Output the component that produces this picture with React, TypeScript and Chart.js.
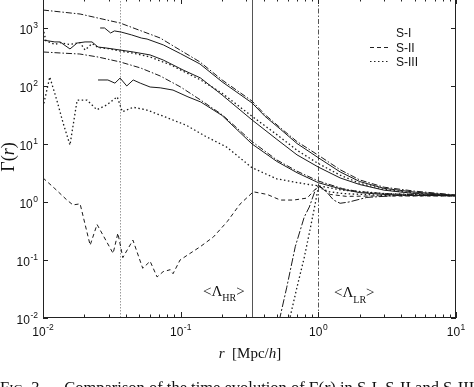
import React, { useEffect, useRef } from 'react';
import { Chart, registerables } from 'chart.js';
Chart.register(...registerables);

// ---- data (r in Mpc/h, Gamma(r)) ----
const rA1 = [0.01, 0.0186, 0.0363, 0.0709, 0.099, 0.138, 0.2, 0.33, 0.41, 0.53, 0.7, 1.0, 1.44, 2.0, 3.0, 5.0, 10];
const gA1 = [2040, 1742, 1219, 673, 417, 260, 127, 55, 32, 19, 11, 6.4, 3.6, 2.4, 1.8, 1.54, 1.32];

const rA2 = [0.026, 0.028, 0.031, 0.033, 0.037, 0.044, 0.052, 0.057, 0.075, 0.1, 0.138, 0.2, 0.33, 0.41, 0.53, 0.7, 1.0, 1.44, 2.0, 3.0, 5.0, 10];
const gA2 = [1000, 1000, 820, 890, 850, 760, 670, 645, 510, 360, 240, 118, 51, 30, 18, 10.2, 5.8, 3.3, 2.25, 1.72, 1.48, 1.3];

const rB1 = [0.01, 0.0122, 0.0133, 0.0157, 0.0177, 0.0202, 0.0227, 0.0251, 0.0292, 0.0363, 0.0452, 0.06, 0.0746, 0.104, 0.139, 0.2, 0.33, 0.5, 0.7, 1.0, 1.44, 2.0, 3.0, 5.0, 10];
const gB1 = [620, 575, 575, 435, 550, 575, 575, 470, 450, 417, 386, 343, 281, 189, 138, 70, 26, 12, 6.5, 4.0, 2.6, 2.0, 1.6, 1.4, 1.28];

const rB2 = [0.01, 0.0105, 0.0122, 0.0133, 0.0157, 0.0186, 0.0202, 0.0227, 0.0251, 0.03, 0.0363, 0.045, 0.06, 0.085, 0.104, 0.139, 0.2, 0.33, 0.5, 0.7, 1.0, 1.44, 2.0, 3.0, 5.0, 10];
const gB2 = [1000, 600, 520, 560, 520, 560, 417, 540, 460, 440, 400, 370, 316, 230, 180, 128, 75, 30, 14.5, 7.8, 4.6, 2.9, 2.1, 1.65, 1.42, 1.29];

const rC1 = [0.01, 0.0133, 0.0185, 0.0251, 0.0363, 0.051, 0.071, 0.1, 0.14, 0.2, 0.33, 0.5, 0.7, 1.0, 1.5, 2.0, 3.0, 5.0, 10];
const gC1 = [386, 371, 356, 316, 260, 205, 149, 96, 57, 32, 11, 5.3, 3.4, 2.3, 1.7, 1.5, 1.4, 1.33, 1.28];

const rC2 = [0.0251, 0.0296, 0.0333, 0.0363, 0.0406, 0.0452, 0.0509, 0.06, 0.071, 0.088, 0.113, 0.14, 0.2, 0.33, 0.5, 0.7, 1.0, 1.5, 2.0, 3.0, 5.0, 10];
const gC2 = [127, 127, 112, 137, 100, 127, 112, 96, 93, 85, 65, 53, 31, 10, 5.0, 3.2, 2.15, 1.65, 1.45, 1.35, 1.3, 1.28];

const rD = [0.01, 0.0112, 0.0126, 0.014, 0.0157, 0.0177, 0.0209, 0.0246, 0.029, 0.0346, 0.0377, 0.0452, 0.056, 0.078, 0.11, 0.154, 0.215, 0.33, 0.5, 0.8, 1.0, 1.5, 3.0, 10];
const gD = [43, 143, 57, 23, 9.6, 57, 57, 39, 47, 65, 36, 43, 39, 29, 21, 13.3, 8.9, 3.9, 2.5, 2.05, 1.9, 1.6, 1.4, 1.28];

const rE = [0.01, 0.0122, 0.0148, 0.0165, 0.0186, 0.022, 0.0247, 0.0323, 0.035, 0.038, 0.045, 0.053, 0.06, 0.0674, 0.0746, 0.084, 0.088, 0.099, 0.117, 0.139, 0.173, 0.218, 0.27, 0.337, 0.425, 0.53, 0.66, 0.83, 1.0, 1.22, 1.6, 2.5, 10];
const gE = [2.6, 1.7, 1.1, 0.89, 0.93, 0.18, 0.41, 0.13, 0.29, 0.11, 0.22, 0.072, 0.095, 0.051, 0.063, 0.068, 0.058, 0.1, 0.13, 0.17, 0.25, 0.46, 0.92, 1.5, 1.35, 1.08, 1.08, 1.17, 1.9, 1.35, 1.25, 1.27, 1.27];

const rF = [0.52, 0.59, 0.68, 0.79, 0.86, 0.95, 1.0, 1.12, 1.29, 1.44, 1.67, 2.25, 3.9, 10];
const gF = [0.009, 0.034, 0.17, 0.55, 0.82, 1.6, 1.95, 1.6, 1.08, 0.95, 1.0, 1.2, 1.3, 1.3];

const rG = [0.615, 0.7, 0.79, 0.86, 0.93, 1.0, 1.2, 1.5, 3.0, 10];
const gG = [0.009, 0.034, 0.11, 0.29, 0.73, 1.8, 1.5, 1.4, 1.3, 1.28];

const xTickExps = ['-2', '-1', '0', '1'];
const yTickExps = ['-2', '-1', '0', '1', '2', '3'];
const vLineHR = 0.33;
const vLineLR = 1.0;
const vLineDot = 0.0363;
const legendLabels = ['S-I', 'S-II', 'S-III'];

const SOLID: number[] = [];
const DASH = [4, 3];
const DOT = [1.5, 2.5];
const DASHDOT = [6, 2, 1.5, 2];

const mk = (r: number[], g: number[], dash: number[], w = 1) => ({
  data: r.map((x, i) => ({ x, y: g[i] })),
  borderColor: '#1a1a1a',
  borderWidth: w,
  borderDash: dash,
  pointRadius: 0,
  tension: 0,
  fill: false,
});

const SANS = '"Liberation Sans", Arial, sans-serif';
const SERIF = '"Liberation Serif", "Times New Roman", serif';

const drawPow = (ctx: CanvasRenderingContext2D, exp: string, x: number, y: number, align: 'center' | 'right') => {
  const bf = `12px ${SANS}`;
  const ef = `8.5px ${SANS}`;
  ctx.font = bf;
  const bw = ctx.measureText('10').width;
  ctx.font = ef;
  const ew = ctx.measureText(exp).width;
  const tot = bw + ew + 0.5;
  const x0 = align === 'center' ? x - tot / 2 : x - tot;
  ctx.textAlign = 'left';
  ctx.textBaseline = 'alphabetic';
  ctx.font = bf;
  ctx.fillText('10', x0, y);
  ctx.font = ef;
  ctx.fillText(exp, x0 + bw + 0.5, y - 6);
};

const drawParts = (ctx: CanvasRenderingContext2D, parts: [string, string, number][], x: number, y: number, center: boolean) => {
  let total = 0;
  for (const [t, f] of parts) { ctx.font = f; total += ctx.measureText(t).width; }
  let cx = center ? x - total / 2 : x;
  ctx.textAlign = 'left';
  ctx.textBaseline = 'alphabetic';
  for (const [t, f, dy] of parts) {
    ctx.font = f;
    ctx.fillText(t, cx, y + dy);
    cx += ctx.measureText(t).width;
  }
};

const decor = {
  id: 'decor',
  beforeDatasetsDraw(chart: any) {
    const { ctx, chartArea: a, scales } = chart;
    const xs = scales.x;
    ctx.save();
    const vline = (v: number, color: string, dash: number[]) => {
      const px = Math.round(xs.getPixelForValue(v)) + 0.5;
      ctx.strokeStyle = color;
      ctx.lineWidth = 1;
      ctx.setLineDash(dash);
      ctx.beginPath();
      ctx.moveTo(px, a.top);
      ctx.lineTo(px, a.bottom);
      ctx.stroke();
    };
    vline(vLineDot, '#9a9a9a', [1.5, 1.5]);
    vline(vLineHR, '#555', []);
    vline(vLineLR, '#555', [5, 2, 1.5, 2]);
    ctx.restore();
  },
  afterDraw(chart: any) {
    const { ctx, chartArea: a, scales } = chart;
    const xs = scales.x;
    const ys = scales.y;
    ctx.save();
    ctx.setLineDash([]);
    ctx.strokeStyle = '#222';
    ctx.lineWidth = 1;
    ctx.strokeRect(a.left + 0.5, a.top + 0.5, a.right - a.left - 1, a.bottom - a.top - 1);

    // x ticks
    ctx.beginPath();
    for (const e of xTickExps) {
      const p = Number(e);
      for (let k = 1; k <= 9; k++) {
        const v = k * Math.pow(10, p);
        if (v > 10.0001) continue;
        const px = Math.round(xs.getPixelForValue(v)) + 0.5;
        const len = k === 1 ? 6 : 3.5;
        ctx.moveTo(px, a.bottom);
        ctx.lineTo(px, a.bottom - len);
        ctx.moveTo(px, a.top);
        ctx.lineTo(px, a.top + len);
      }
    }
    // y ticks
    for (const e of yTickExps) {
      const py = Math.round(ys.getPixelForValue(Math.pow(10, Number(e)))) + 0.5;
      ctx.moveTo(a.left, py);
      ctx.lineTo(a.left + 5, py);
      ctx.moveTo(a.right, py);
      ctx.lineTo(a.right - 5, py);
    }
    ctx.stroke();

    ctx.fillStyle = '#111';
    for (const e of xTickExps) {
      const px = xs.getPixelForValue(Math.pow(10, Number(e)));
      drawPow(ctx, e, px, a.bottom + 18, 'center');
    }
    for (const e of yTickExps) {
      const py = ys.getPixelForValue(Math.pow(10, Number(e)));
      drawPow(ctx, e, 38, py + 6, 'right');
    }

    // axis titles
    drawParts(ctx, [
      ['r', `italic 15px ${SERIF}`, 0],
      ['  [Mpc/', `15px ${SERIF}`, 0],
      ['h', `italic 15px ${SERIF}`, 0],
      [']', `15px ${SERIF}`, 0],
    ], 250, 360, true);

    ctx.save();
    ctx.translate(14, 159);
    ctx.rotate(-Math.PI / 2);
    drawParts(ctx, [
      ['\u0393(', `18px ${SERIF}`, 0],
      ['r', `italic 18px ${SERIF}`, 0],
      [')', `18px ${SERIF}`, 0],
    ], 0, 0, true);
    ctx.restore();

    // annotations
    drawParts(ctx, [
      ['<\u039B', `15px ${SERIF}`, 0],
      ['HR', `10px ${SERIF}`, 5],
      ['>', `15px ${SERIF}`, 0],
    ], 203, 298, false);
    drawParts(ctx, [
      ['<\u039B', `15px ${SERIF}`, 0],
      ['LR', `10px ${SERIF}`, 6],
      ['>', `15px ${SERIF}`, 0],
    ], 334, 299, false);

    // legend
    const ly = [39, 54, 68];
    const ld = [null, DASH, DOT];
    ctx.font = `12px ${SANS}`;
    ctx.textAlign = 'left';
    ctx.textBaseline = 'alphabetic';
    legendLabels.forEach((t, i) => {
      ctx.fillText(t, 396, ly[i]);
      const d = ld[i];
      if (d) {
        ctx.setLineDash(d);
        ctx.lineWidth = 1;
        ctx.beginPath();
        ctx.moveTo(370, ly[i] - 4.5);
        ctx.lineTo(388, ly[i] - 4.5);
        ctx.stroke();
      }
    });
    ctx.setLineDash([]);

    // caption (cut off at bottom)
    drawParts(ctx, [
      ['F', `16.5px ${SERIF}`, 0],
      ['IG', `13px ${SERIF}`, 0],
      ['. 3.\u2014 Comparison of the time evolution of \u0393(', `16.5px ${SERIF}`, 0],
      ['r', `italic 16.5px ${SERIF}`, 0],
      [') in S-I, S-II and S-III', `16.5px ${SERIF}`, 0],
    ], 0, 395, false);
    ctx.restore();
  },
};

export default function App() {
  const ref = useRef<HTMLCanvasElement | null>(null);
  useEffect(() => {
    if (!ref.current) return;
    const chart = new Chart(ref.current, {
      type: 'line',
      data: {
        datasets: [
          mk(rA1, gA1, DASHDOT),
          mk(rA2, gA2, SOLID),
          mk(rB1, gB1, SOLID),
          mk(rB2, gB2, DOT, 1.3),
          mk(rC1, gC1, DASHDOT),
          mk(rC2, gC2, SOLID),
          mk(rD, gD, DOT, 1.3),
          mk(rE, gE, DASH),
          mk(rF, gF, [8, 2, 2, 2]),
          mk(rG, gG, DOT, 1.3),
        ] as any,
      },
      options: {
        animation: false,
        responsive: false,
        devicePixelRatio: 1,
        layout: { padding: { left: 43, right: 18, top: 0, bottom: 69 } },
        plugins: { legend: { display: false }, tooltip: { enabled: false } },
        scales: {
          x: { type: 'logarithmic', min: 0.01, max: 10, display: false },
          y: { type: 'logarithmic', min: 0.01, max: 3290, display: false },
        },
      },
      plugins: [decor],
    } as any);
    return () => chart.destroy();
  }, []);
  return (
    <div style={{ position: 'absolute', left: 0, top: -2, width: 474, height: 389, background: '#fff' }}>
      <canvas ref={ref} width={474} height={389} style={{ width: 474, height: 389, display: 'block' }} />
    </div>
  );
}
